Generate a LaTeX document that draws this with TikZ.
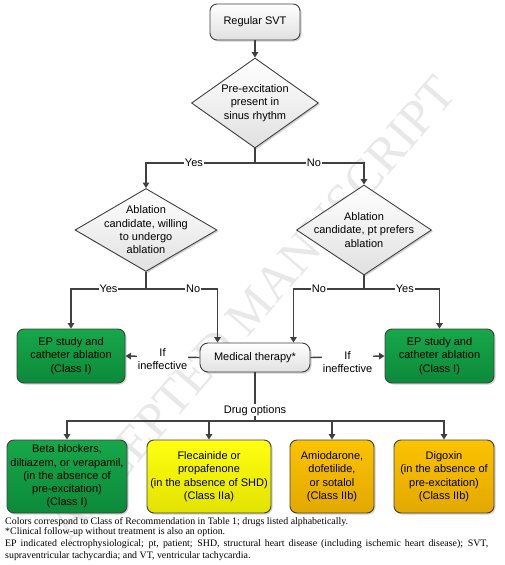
\documentclass[tikz,border=0pt]{standalone}
\usepackage{fontspec}
\setmainfont{Liberation Sans}
\newfontfamily\serifnote{Liberation Serif}
\usetikzlibrary{shapes.geometric,arrows.meta,shadows,calc}
\definecolor{edgegray}{HTML}{404040}
\definecolor{greentop}{HTML}{17A74A}
\definecolor{greenbot}{HTML}{0C8A3A}
\definecolor{yeltop}{HTML}{FFFF10}
\definecolor{yelbot}{HTML}{E2E200}
\definecolor{orgtop}{HTML}{FBC300}
\definecolor{orgbot}{HTML}{E3A800}
\tikzset{
  shadowed/.style={drop shadow={opacity=0.35,shadow xshift=1.5pt,shadow yshift=-1.5pt}},
  boxbase/.style={draw=edgegray,line width=0.9pt,rounded corners=7pt,align=center,
     font=\fontsize{11}{13.3}\selectfont,inner sep=1pt,shadowed},
  greybox/.style={boxbase,top color=white,bottom color=black!12},
  greenbox/.style={boxbase,top color=greentop,bottom color=greenbot},
  yelbox/.style={boxbase,top color=yeltop,bottom color=yelbot},
  orgbox/.style={boxbase,top color=orgtop,bottom color=orgbot},
  decision/.style={diamond,draw=edgegray,line width=0.9pt,inner sep=0pt,
     top color=white,bottom color=black!12,shadowed},
  dtext/.style={align=center,inner sep=0pt,font=\fontsize{11}{13.3}\selectfont},
  conn/.style={draw=edgegray,line width=1.4pt},
  arr/.style={conn,-{Triangle[length=5.5pt,width=6.5pt]}},
  lab/.style={fill=white,inner sep=1pt,font=\fontsize{11}{13.3}\selectfont}
}
\begin{document}
\begin{tikzpicture}[x=1pt,y=-1pt]
\useasboundingbox (0,0) rectangle (505,565);
% watermark
\node[rotate=49,text=black!9,font=\serifnote\fontsize{50}{50}\selectfont] (wm) at (252,308) {ACCEPTED MANUSCRIPT};
% nodes
\node[greybox,minimum width=90pt,minimum height=36pt] (svt) at (255,22) {Regular SVT};
\node[decision,minimum width=127pt,minimum height=90pt] (d1) at (255,103) {};
\node[dtext] (t1) at (d1.center) {Pre-excitation\\present in\\sinus rhythm};
\node[decision,minimum width=142pt,minimum height=83pt] (d2) at (146,230) {};
\node[dtext] (t2) at (d2.center) {Ablation\\candidate, willing\\to undergo\\ablation};
\node[decision,minimum width=135pt,minimum height=90pt] (d3) at (364,230) {};
\node[dtext] (t3) at (d3.center) {Ablation\\candidate, pt prefers\\ablation};
\node[greenbox,minimum width=108pt,minimum height=54pt] (ep1) at (71,356) {EP study and\\catheter ablation\\(Class I)};
\node[greybox,rounded corners=8pt,minimum width=110pt,minimum height=29pt] (med) at (255,357.5) {Medical therapy*};
\node[greenbox,minimum width=109pt,minimum height=54pt] (ep2) at (439.5,356) {EP study and\\catheter ablation\\(Class I)};
\node[greenbox,minimum width=120pt,minimum height=73pt] (b1) at (67,476.5) {Beta blockers,\\diltiazem, or verapamil,\\(in the absence of\\pre-excitation)\\(Class I)};
\node[yelbox,minimum width=124pt,minimum height=73pt] (b2) at (209,476.5) {Flecainide or\\propafenone\\(in the absence of SHD)\\(Class IIa)};
\node[orgbox,minimum width=84pt,minimum height=73pt] (b3) at (332,476.5) {Amiodarone,\\dofetilide,\\or sotalol\\(Class IIb)};
\node[orgbox,minimum width=100pt,minimum height=73pt] (b4) at (444,476.5) {Digoxin\\(in the absence of\\pre-excitation)\\(Class IIb)};
% junctions
\coordinate (j1) at (255,163);
\coordinate (j2) at (146,289);
\coordinate (j3) at (364,289);
\coordinate (j4) at (255,421);
\coordinate (medL) at ([xshift=18pt]med.north west);
\coordinate (medR) at ([xshift=-17pt]med.north east);
% connectors
\draw[arr] (svt) -- (d1.north);
\draw[conn] (d1.south) -- (j1);
\draw[arr] (j1) -| node[lab,pos=0.28] (ly1) {Yes} (d2.north);
\draw[arr] (j1) -| node[lab,pos=0.27] (ln1) {No} (d3.north);
\draw[conn] (d2.south) -- (j2);
\draw[arr] (j2) -| node[lab,pos=0.25] (ly2) {Yes} (ep1.north);
\draw[arr] (j2) -| node[lab,pos=0.33] (ln2) {No} (medL);
\draw[conn] (d3.south) -- (j3);
\draw[arr] (j3) -| node[lab,pos=0.32] (ln3) {No} (medR);
\draw[arr] (j3) -| node[lab,pos=0.27] (ly3) {Yes} (ep2.north);
\draw[arr] (med.west) -- node[lab,align=center,yshift=-2pt] (if1) {If\\ineffective} (ep1.east);
\draw[arr] (med.east) -- node[lab,align=center,yshift=-5pt] (if2) {If\\ineffective} (ep2.west);
\draw[conn] (med.south) -- node[lab,pos=0.78] (drug) {Drug options} (j4);
\draw[arr] (j4) -| (b1.north);
\draw[arr] (j4) -| (b2.north);
\draw[arr] (j4) -| (b3.north);
\draw[arr] (j4) -| (b4.north);
% footnotes
\node[anchor=north west,inner sep=0pt,align=left,font=\serifnote\fontsize{9.9}{12.3}\selectfont] (notes) at (5,517)
 {Colors correspond to Class of Recommendation in Table 1; drugs listed alphabetically.\\[-2.3pt]
  *Clinical follow-up without treatment is also an option.\\
  \makebox[483pt][s]{EP indicated electrophysiological; pt, patient; SHD, structural heart disease (including ischemic heart disease); SVT,}\\
  supraventricular tachycardia; and VT, ventricular tachycardia.};
\end{tikzpicture}
\end{document}
